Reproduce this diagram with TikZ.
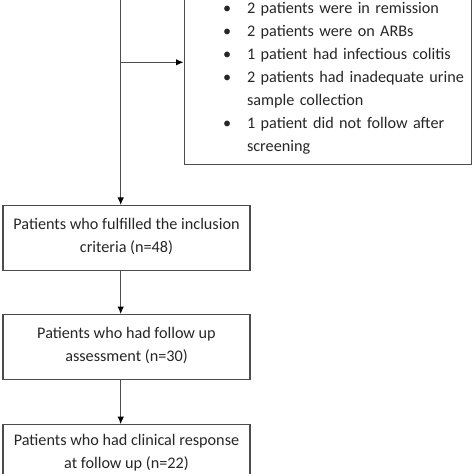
\documentclass[tikz,border=0pt]{standalone}
\usepackage{fontspec}
\setmainfont{Carlito}
\usepackage{tikz}
\usetikzlibrary{arrows,arrows.meta,positioning}
\newcommand{\exclitem}[1]{\hspace*{39pt}\makebox[24pt][l]{\textbullet}#1}
\newcommand{\exclcont}[1]{\hspace*{63pt}#1}
\tikzset{
    %Define standard arrow tip
    >={Latex[length=7.5pt,width=6.5pt,color=black]},
    %Define style for boxes
    flowbox/.style={
           rectangle,
           draw=black!70, line width=1.1pt,
           minimum width=247pt,
           minimum height=65pt,
           inner sep=0pt,
           align=center,
           font=\fontsize{16.2}{23}\selectfont,
           text=black!85},
    exclbox/.style={
           rectangle,
           draw=black!70, line width=1.1pt,
           text width=287pt,
           inner xsep=0pt, inner ysep=10pt,
           align=left,
           font=\fontsize{16.2}{23}\selectfont,
           text=black!85},
    % Define arrow style
    pil/.style={
           ->,
           draw=black!70, line width=1.1pt}
}
\begin{document}
\begin{tikzpicture}[x=1pt,y=1pt]
\useasboundingbox (0,0) rectangle (474,-474);
\clip (0,0) rectangle (474,-474);
 %nodes
\node[flowbox] (fulfil) at (126.5,-238) {Patients who fulfilled the inclusion\\criteria (n=48)\rule[-6pt]{0pt}{6pt}};
\node[flowbox, below=43pt of fulfil] (followup) {Patients who had follow up\\assessment (n=30)\rule[-6pt]{0pt}{6pt}};
\node[flowbox, minimum height=55pt, below=44pt of followup] (response) {Patients who had clinical response\\at follow up (n=22)};
\node[exclbox, anchor=south west] (excl) at (183.5,-165) {%
\exclitem{2 patients were in remission}\\
\exclitem{2 patients were on ARBs}\\
\exclitem{1 patient had infectious colitis}\\
\exclitem{2 patients had inadequate urine}\\
\exclcont{sample collection}\\
\exclitem{1 patient did not follow after}\\
\exclcont{screening}};
\coordinate (top) at (120.7,5);
\coordinate (split) at (120.7,-62.3);
 %arrows
\draw[pil] (top) -- (fulfil.north -| top);
\draw[pil] (split) -- (split -| excl.west);
\draw[pil] (fulfil.south -| top) -- (followup.north -| top);
\draw[pil] (followup.south -| top) -- (response.north -| top);
\end{tikzpicture}
\end{document}
